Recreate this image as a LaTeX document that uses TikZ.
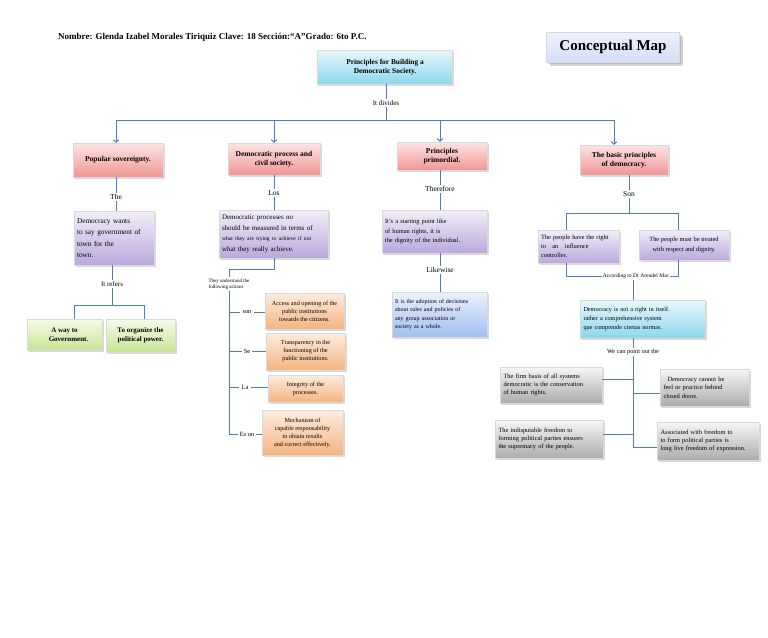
\documentclass[tikz,border=0pt]{standalone}
\usepackage{fontspec}
\setmainfont{Liberation Serif}
\usetikzlibrary{arrows.meta,shadows}

\definecolor{lineblue}{RGB}{74,126,193}
\definecolor{cyanTop}{RGB}{232,248,252}
\definecolor{cyanBot}{RGB}{140,214,236}
\definecolor{pinkTop}{RGB}{253,228,228}
\definecolor{pinkBot}{RGB}{240,150,150}
\definecolor{purpleTop}{RGB}{242,238,249}
\definecolor{purpleBot}{RGB}{186,168,220}
\definecolor{greenTop}{RGB}{246,251,232}
\definecolor{greenBot}{RGB}{200,228,150}
\definecolor{orangeTop}{RGB}{253,236,222}
\definecolor{orangeBot}{RGB}{245,180,128}
\definecolor{blueTop}{RGB}{236,242,253}
\definecolor{blueBot}{RGB}{160,190,240}
\definecolor{grayTop}{RGB}{246,246,246}
\definecolor{grayBot}{RGB}{172,172,172}
\definecolor{mapTop}{RGB}{238,242,252}
\definecolor{mapBot}{RGB}{212,222,246}

\begin{document}
\begin{tikzpicture}[x=1pt,y=-1pt,
link/.style={draw=lineblue,line width=0.95pt},
flow/.style={link,-{Straight Barb[length=2.5pt,width=5.5pt]}},
box/.style={rectangle,draw=black!15,line width=0.3pt,inner sep=3pt,drop shadow={shadow xshift=1.6pt,shadow yshift=-1.8pt,opacity=0.3}},
mapbox/.style={box,top color=mapTop,bottom color=mapBot,font=\fontsize{15}{17}\selectfont\bfseries,drop shadow={shadow xshift=3pt,shadow yshift=-4pt,opacity=0.35}},
rootbox/.style={box,top color=cyanTop,bottom color=cyanBot,font=\fontsize{7.4}{9.5}\selectfont\bfseries,align=center},
pinkbox/.style={box,top color=pinkTop,bottom color=pinkBot,font=\fontsize{7.5}{9.5}\selectfont\bfseries,align=center},
purplebox/.style={box,top color=purpleTop,bottom color=purpleBot,align=left},
greenbox/.style={box,top color=greenTop,bottom color=greenBot,font=\fontsize{7}{9}\selectfont\bfseries,align=center},
orangebox/.style={box,top color=orangeTop,bottom color=orangeBot,font=\fontsize{6.2}{8}\selectfont,align=center},
bluebox/.style={box,top color=blueTop,bottom color=blueBot,font=\fontsize{6}{8.2}\selectfont,align=left},
cyanbox/.style={box,top color=cyanTop,bottom color=cyanBot,font=\fontsize{6.2}{8.8}\selectfont,align=left},
graybox/.style={box,top color=grayTop,bottom color=grayBot,font=\fontsize{6.4}{8.4}\selectfont,align=left},
lbl/.style={font=\fontsize{7.5}{8.5}\selectfont,inner sep=1.5pt},
brlbl/.style={font=\fontsize{6.4}{7}\selectfont,inner sep=2pt},
tinylbl/.style={font=\fontsize{5}{6.2}\selectfont,inner sep=1pt,align=left}
]
\useasboundingbox (0,0) rectangle (768,637);

\node[font=\fontsize{9}{10}\selectfont\bfseries,anchor=west,inner sep=0pt] (title) at (58,37) {Nombre: Glenda Izabel Morales Tiriquiz Clave: 18 Sección:“A”Grado: 6to P.C.};
\node[mapbox,minimum width=133pt,minimum height=30pt] (cmap) at (613,47) {Conceptual Map};

\node[rootbox,minimum width=135pt,minimum height=34pt] (root) at (385,67) {Principles for Building a\\Democratic Society.};
\node[lbl,font=\fontsize{7}{8}\selectfont] (divides) at (386,103) {It divides};
\coordinate (bus1) at (116,120);
\coordinate (bus2) at (274,120);
\coordinate (bus3) at (440,120);
\coordinate (bus4) at (614,120);

% four main branches
\node[pinkbox,minimum width=90pt,minimum height=34pt] (popular) at (118,160) {Popular sovereignty.};
\node[pinkbox,minimum width=92pt,minimum height=32pt] (process) at (274,159) {Democratic process and\\civil society.};
\node[pinkbox,minimum width=90pt,minimum height=28pt] (primordial) at (442,156) {Principles\\primordial.};
\node[pinkbox,minimum width=88pt,minimum height=30pt] (basic) at (624,160) {The basic principles\\of democracy.};

% column 1
\node[lbl] (the) at (116,197) {The};
\node[purplebox,font=\fontsize{7.3}{11.5}\selectfont,minimum width=80pt,minimum height=54pt,text width=74pt] (townbox) at (114,238) {Democracy wants\\to say government of\\town for the\\town.};
\node[lbl,font=\fontsize{7}{8}\selectfont] (refers) at (112,284) {It refers};
\coordinate (g1) at (74,305);
\coordinate (g2) at (144,305);
\node[greenbox,minimum width=75pt,minimum height=31pt] (govway) at (64.5,334.5) {A way to\\\hspace*{8pt}Government.};
\node[greenbox,minimum width=69pt,minimum height=33pt] (organize) at (140.5,335.5) {To organize the\\political power.};

% column 2
\node[lbl] (los) at (274,193) {Los};
\node[purplebox,font=\fontsize{7}{10.5}\selectfont,minimum width=109pt,minimum height=48pt,text width=103pt] (measured) at (273.5,234) {Democratic processes no\\should be measured in terms of\\{\fontsize{5.6}{10.5}\selectfont what they are trying to achieve if not}\\what they really achieve.};
\node[tinylbl] (actions) at (229,284) {They understand the\\following actions};
\node[orangebox,minimum width=79pt,minimum height=36pt] (access) at (304.5,311) {Access and opening of the\\public institutions\\towards the citizens.};
\node[orangebox,minimum width=79pt,minimum height=37pt] (transp) at (305.5,351.5) {Transparency in the\\functioning of the\\public institutions.};
\node[orangebox,minimum width=75pt,minimum height=27pt] (integ) at (305.5,388.5) {Integrity of the\\processes.};
\node[orangebox,minimum width=81pt,minimum height=45pt] (mech) at (302.5,432.5) {Mechanism of\\capable responsability\\to obtain results\\and correct effectively.};
\node[brlbl] (brSon) at (247,312) {son};
\node[brlbl] (brSe) at (247,351) {Se};
\node[brlbl] (brLa) at (245,387) {La};
\node[brlbl] (brEsun) at (247,434) {Es un};

% column 3
\node[lbl] (therefore) at (440,189) {Therefore};
\node[purplebox,font=\fontsize{6.4}{9.5}\selectfont,minimum width=105pt,minimum height=43pt,text width=99pt] (dignity) at (434.5,231.5) {It's a starting point like\\of human rights, it is\\the dignity of the individual.};
\node[lbl] (likewise) at (440,270) {Likewise};
\node[bluebox,minimum width=95pt,minimum height=45pt,text width=89pt] (adoption) at (439.5,314.5) {It is the adoption of decisions\\about rules and policies of\\any group association or\\society as a whole.};

% column 4
\node[lbl] (sonlbl) at (629,194) {Son};
\coordinate (j4l) at (566,213);
\coordinate (j4r) at (678,213);
\node[purplebox,font=\fontsize{6.4}{9.2}\selectfont,minimum width=81pt,minimum height=33pt,text width=75pt] (influence) at (578.5,246.5) {The people have the right\\to\ \ \ an\ \ \ influence\\controller.};
\node[purplebox,font=\fontsize{6.4}{9.2}\selectfont,minimum width=90pt,minimum height=30pt,align=center] (treated) at (684,245) {The people must be treated\\with respect and dignity.};
\coordinate (k4l) at (566,276);
\coordinate (k4r) at (678,276);
\node[tinylbl,font=\fontsize{5.5}{6.5}\selectfont] (arendel) at (636,276) {According to Dr Arendel Mac};
\coordinate (drop4) at (633,276);
\node[cyanbox,minimum width=125pt,minimum height=38pt,text width=118pt] (itself) at (642.5,319) {Democracy is not a right in itself.\\rather a comprehensive system\\que comprende ciertas normas.};
\node[tinylbl,font=\fontsize{6.3}{7}\selectfont] (pointout) at (633,352) {We can point out the};
\coordinate (w1) at (633,379);
\coordinate (w2) at (633,393);
\coordinate (w3) at (633,434);
\coordinate (w4) at (633,447);
\node[graybox,minimum width=102pt,minimum height=36pt,text width=95pt] (firm) at (551,385) {The firm basis of all systems\\democratic is the conservation\\of human rights.};
\node[graybox,minimum width=89pt,minimum height=37pt,text width=82pt] (doors) at (704.5,387.5) {\hspace*{4pt}Democracy cannot be\\feel or practice behind\\closed doors.};
\node[graybox,minimum width=108pt,minimum height=38pt,text width=101pt] (parties) at (549,439) {The indisputable freedom to\\forming political parties ensures\\the supremacy of the people.};
\node[graybox,minimum width=102pt,minimum height=38pt,text width=95pt] (expression) at (708,441) {Associated with freedom to\\to form political parties is\\long live freedom of expression.};

% connectors
\draw[link] (root.south -| divides) -- (divides.north);
\draw[link] (divides.south) -- (divides |- bus1);
\draw[link] (bus1) -- (bus4);
\draw[flow] (bus1) -- (bus1 |- popular.north);
\draw[flow] (bus2) -- (bus2 |- process.north);
\draw[flow] (bus3) -- (bus3 |- primordial.north);
\draw[flow] (bus4) -- (bus4 |- basic.north);

\draw[link] (the |- popular.south) -- (the.north);
\draw[link] (the.south) -- (the |- townbox.north);
\draw[link] (refers |- townbox.south) -- (refers.north);
\draw[link] (refers.south) -- (refers |- g1);
\draw[link] (g1 |- govway.north) -- (g1) -- (g2) -- (g2 |- organize.north);

\draw[link] (los |- process.south) -- (los.north);
\draw[link] (los.south) -- (los |- measured.north);
\draw[link] (los |- measured.south) -- ++(0,11) -| (actions.north);
\draw[link] (actions.south) -- (actions.south |- brEsun) -- (brEsun.west);
\foreach \b in {brSon,brSe,brLa}
  \draw[link] (actions.south |- \b) -- (\b.west);
\draw[link] (brSon.east) -- (brSon.east -| access.west);
\draw[link] (brSe.east) -- (brSe.east -| transp.west);
\draw[link] (brLa.east) -- (brLa.east -| integ.west);
\draw[link] (brEsun.east) -- (brEsun.east -| mech.west);

\draw[link] (therefore |- primordial.south) -- (therefore.north);
\draw[link] (therefore.south) -- (therefore |- dignity.north);
\draw[link] (likewise |- dignity.south) -- (likewise.north);
\draw[link] (likewise.south) -- (likewise |- adoption.north);

\draw[link] (sonlbl |- basic.south) -- (sonlbl.north);
\draw[link] (sonlbl.south) -- (sonlbl |- j4l);
\draw[link] (j4l |- influence.north) -- (j4l) -- (j4r) -- (j4r |- treated.north);
\draw[link] (j4l |- influence.south) -- (k4l) -- (arendel.west);
\draw[link] (arendel.east) -- (k4r) -- (k4r |- treated.south);
\draw[link] (drop4 |- arendel.south) -- (drop4 |- itself.north);
\draw[link] (pointout |- itself.south) -- (pointout.north);
\draw[link] (pointout.south) -- (w4) -- (w4 -| expression.west);
\draw[link] (w1) -- (w1 -| firm.east);
\draw[link] (w2) -- (w2 -| doors.west);
\draw[link] (w3) -- (w3 -| parties.east);
\end{tikzpicture}
\end{document}
